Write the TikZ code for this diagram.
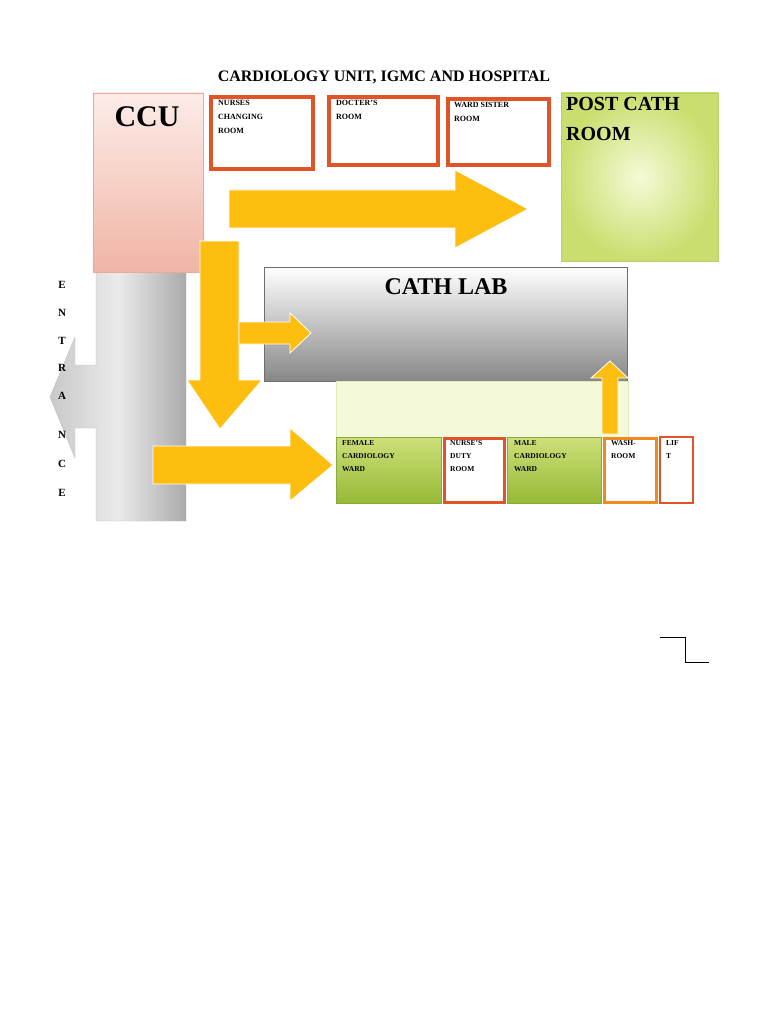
\documentclass[tikz,border=0pt]{standalone}
\usepackage{fontspec}
\setmainfont{Liberation Serif}
\begin{document}
\begin{tikzpicture}[x=1pt,y=-1pt,
  arr/.style={fill={rgb,255:red,253;green,190;blue,15},draw=white,line width=0.8pt},
  redbox/.style={draw={rgb,255:red,224;green,84;blue,40},line width=3.5pt,fill=white},
  sm/.style={anchor=north west,font=\bfseries\fontsize{8}{14}\selectfont,align=left,inner sep=0pt},
  ward/.style={top color={rgb,255:red,205;green,224;blue,120},bottom color={rgb,255:red,150;green,185;blue,55},draw={rgb,255:red,140;green,170;blue,60},line width=0.5pt}]
\useasboundingbox (0,0) rectangle (768,1024);
\node[font=\bfseries\fontsize{16}{18}\selectfont] (title) at (384,77) {CARDIOLOGY UNIT, IGMC AND HOSPITAL};
% entrance arrow
\path[left color={rgb,255:red,200;green,200;blue,200},right color={rgb,255:red,170;green,170;blue,170},middle color={rgb,255:red,235;green,235;blue,235},draw={rgb,255:red,190;green,190;blue,190}]
 (96,272)--(186,272)--(186,521)--(96,521)--(96,428)--(75,428)--(75,458)--(50,397)--(75,337)--(75,365)--(96,365)--cycle;
\foreach \l/\y in {E/285,N/313,T/341,R/368,A/396,N/435,C/464,E/493}
  \node[font=\bfseries\fontsize{11}{12}\selectfont] at (62,\y) {\l};
% CCU
\path[top color={rgb,255:red,252;green,236;blue,232},bottom color={rgb,255:red,240;green,180;blue,165},draw={rgb,255:red,235;green,170;blue,150}] (93,93) rectangle (203,272);
\node[font=\bfseries\fontsize{30}{32}\selectfont] (ccu) at (147,117) {CCU};
% top rooms
\draw[redbox] (211,97) rectangle (313,169);
\node[sm] (nc) at (218,100) {NURSES\\CHANGING\\ROOM};
\draw[redbox] (329,97) rectangle (438,165);
\node[sm] (dr) at (336,100) {DOCTER'S\\ROOM};
\draw[redbox] (448,99) rectangle (549,165);
\node[sm] (ws) at (454,102) {WARD SISTER\\ROOM};
% post cath
\path[inner color={rgb,255:red,245;green,250;blue,215},outer color={rgb,255:red,200;green,222;blue,110},draw={rgb,255:red,185;green,205;blue,110}] (561,93) rectangle (718,261);
\node[anchor=north west,align=left,inner sep=0pt,font=\bfseries\fontsize{20}{30}\selectfont] (pc) at (566,97) {POST CATH\\ROOM};
% big right arrow
\path[arr] (229,190)--(455,190)--(455,170)--(528,209)--(455,248)--(455,228)--(229,228)--cycle;
% cath lab
\path[top color=white,bottom color={rgb,255:red,135;green,135;blue,135},draw={rgb,255:red,110;green,110;blue,110},line width=0.5pt] (264,267) rectangle (627,381);
\node[font=\bfseries\fontsize{24}{26}\selectfont] (cl) at (446,287) {CATH LAB};
% down arrow
\path[arr] (200,241)--(239,241)--(239,380)--(262,380)--(220,429)--(187,380)--(200,380)--cycle;
% small right arrow
\path[arr] (239,322)--(290,322)--(290,313)--(311,333)--(290,353)--(290,344)--(239,344)--cycle;
% light green box
\path[fill={rgb,255:red,244;green,249;blue,218},draw={rgb,255:red,225;green,235;blue,185}] (336,381) rectangle (628,437);
% up arrow
\path[arr] (602,434)--(602,378)--(591,378)--(610,361)--(628,378)--(618,378)--(618,434)--cycle;
% bottom arrow
\path[arr] (153,446)--(290,446)--(290,428)--(333,465)--(290,501)--(290,484)--(153,484)--cycle;
% wards
\path[ward] (336,437) rectangle (441,503);
\node[sm,font=\bfseries\fontsize{7.5}{13}\selectfont] (fw) at (342,440) {FEMALE\\CARDIOLOGY\\WARD};
\draw[redbox,line width=3pt] (444,438) rectangle (504,502);
\node[sm,font=\bfseries\fontsize{7.5}{13}\selectfont] (nd) at (450,440) {NURSE'S\\DUTY\\ROOM};
\path[ward] (507,437) rectangle (601,503);
\node[sm,font=\bfseries\fontsize{7.5}{13}\selectfont] (mw) at (514,440) {MALE\\CARDIOLOGY\\WARD};
\draw[draw={rgb,255:red,240;green,138;blue,30},line width=3pt,fill=white] (604,438) rectangle (656,502);
\node[sm,font=\bfseries\fontsize{7.5}{13}\selectfont] (wr) at (611,440) {WASH-\\ROOM};
\draw[draw={rgb,255:red,224;green,84;blue,40},line width=1.5pt,fill=white] (660,437) rectangle (693,503);
\node[sm,font=\bfseries\fontsize{7.5}{13}\selectfont] (lf) at (666,440) {LIF\\T};
% corner mark
\draw[line width=1pt] (660,637)--(685,637)--(685,662)--(709,662);
\end{tikzpicture}
\end{document}
